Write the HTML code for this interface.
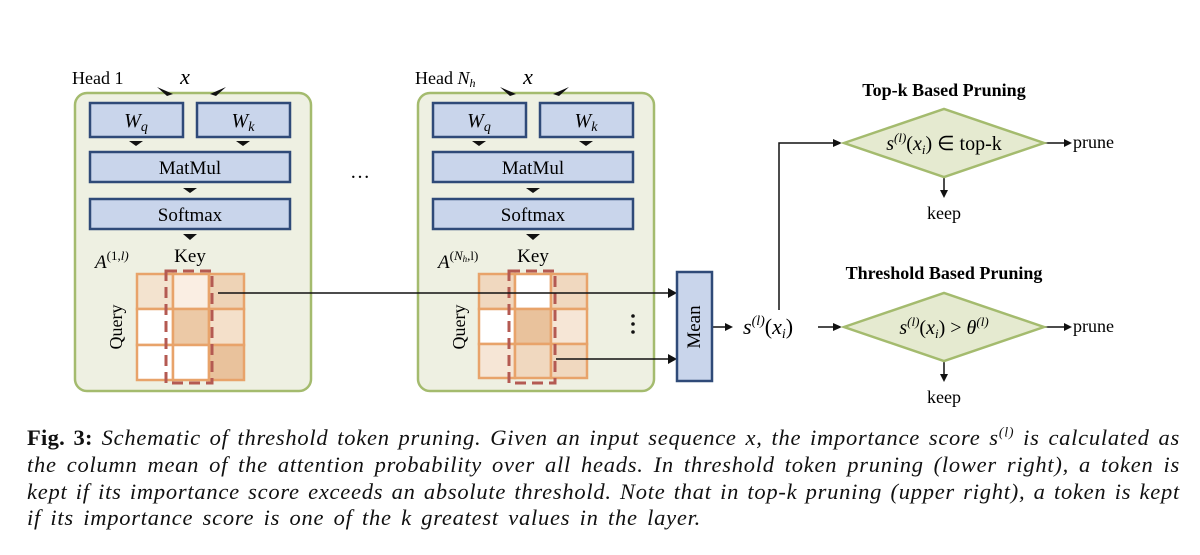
<!DOCTYPE html>
<html><head><meta charset="utf-8"><style>
html,body{margin:0;padding:0;background:#fff;}
body{width:1200px;height:555px;position:relative;overflow:hidden;font-family:"Liberation Serif",serif;}
svg{position:absolute;left:0;top:0}
.cap{position:absolute;left:27px;top:425px;width:1153px;font-size:22.5px;letter-spacing:0.75px;line-height:26.8px;font-style:italic;color:#111;}
.cap div{text-align:justify;text-align-last:justify;white-space:nowrap;}
.cap div.l{text-align-last:left;word-spacing:3px}
.cap b{font-style:normal;letter-spacing:0.3px}
</style></head><body>
<svg width="1200" height="420" viewBox="0 0 1200 420" font-family="Liberation Serif, serif">
<defs>
<g id="head">
<rect x="75" y="93" width="236" height="298" rx="12" fill="#eef0e2" stroke="#a4bb6e" stroke-width="2.5"/>
<rect x="90" y="103" width="93" height="34" fill="#c9d5eb" stroke="#2f4a78" stroke-width="2.5"/>
<rect x="197" y="103" width="93" height="34" fill="#c9d5eb" stroke="#2f4a78" stroke-width="2.5"/>
<rect x="90" y="152" width="200" height="30" fill="#c9d5eb" stroke="#2f4a78" stroke-width="2.5"/>
<rect x="90" y="199" width="200" height="30" fill="#c9d5eb" stroke="#2f4a78" stroke-width="2.5"/>
<text x="136" y="127" font-size="20" font-style="italic" text-anchor="middle">W<tspan font-size="14" dy="4">q</tspan></text>
<text x="243" y="127" font-size="20" font-style="italic" text-anchor="middle">W<tspan font-size="14" dy="4">k</tspan></text>
<text x="190" y="174" font-size="19" text-anchor="middle">MatMul</text>
<text x="190" y="221" font-size="19" text-anchor="middle">Softmax</text>
<polygon points="129,141 143,141 136,146" fill="#111"/>
<polygon points="236,141 250,141 243,146" fill="#111"/>
<polygon points="183,188 197,188 190,193" fill="#111"/>
<polygon points="183,234 197,234 190,240" fill="#111"/>
<polygon points="157,87 173,94 167,96" fill="#111"/>
<polygon points="226,87 210,94 216,96" fill="#111"/>
<text x="185" y="84" font-size="22" font-style="italic" text-anchor="middle">x</text>
<text x="190" y="262" font-size="19" text-anchor="middle">Key</text>
<text x="122" y="327" font-size="18" text-anchor="middle" transform="rotate(-90 122 327)">Query</text>
</g>
</defs>
<use href="#head"/>
<use href="#head" transform="translate(343 0)"/>
<text x="72" y="84" font-size="18">Head 1</text>
<text x="415" y="84" font-size="18">Head <tspan font-style="italic">N</tspan><tspan font-size="12" font-style="italic" dy="3">h</tspan></text>
<text x="95" y="268" font-size="19" font-style="italic">A<tspan font-size="13" font-style="normal" dy="-8">(1,</tspan><tspan font-size="13" dy="0">l)</tspan></text>
<text x="438" y="268" font-size="19" font-style="italic">A<tspan font-size="13" font-style="normal" dy="-8">(</tspan><tspan font-size="13">N</tspan><tspan font-size="9" dy="2">h</tspan><tspan font-size="13" font-style="normal" dy="-2">,l)</tspan></text>
<g stroke="#e8a36a" stroke-width="2.5">
<rect x="137" y="274" width="36" height="35" fill="#f3e3cf"/>
<rect x="173" y="274" width="36" height="35" fill="#faeee3"/>
<rect x="209" y="274" width="35" height="35" fill="#eed3b6"/>
<rect x="137" y="309" width="36" height="36" fill="#fff"/>
<rect x="173" y="309" width="36" height="36" fill="#ecc9a6"/>
<rect x="209" y="309" width="35" height="36" fill="#f4e0ca"/>
<rect x="137" y="345" width="36" height="35" fill="#fff"/>
<rect x="173" y="345" width="36" height="35" fill="#fff"/>
<rect x="209" y="345" width="35" height="35" fill="#e9c29c"/>
</g>
<rect x="166" y="271" width="46" height="112" fill="none" stroke="#b45a52" stroke-width="3" stroke-dasharray="11 6"/>
<g stroke="#e8a36a" stroke-width="2.5">
<rect x="479" y="274" width="36" height="35" fill="#f0d8bf"/>
<rect x="515" y="274" width="36" height="35" fill="#fff"/>
<rect x="551" y="274" width="36" height="35" fill="#f0d8bf"/>
<rect x="479" y="309" width="36" height="35" fill="#fff"/>
<rect x="515" y="309" width="36" height="35" fill="#e9c29c"/>
<rect x="551" y="309" width="36" height="35" fill="#f6e6d6"/>
<rect x="479" y="344" width="36" height="34" fill="#f6e6d6"/>
<rect x="515" y="344" width="36" height="34" fill="#f0d8bf"/>
<rect x="551" y="344" width="36" height="34" fill="#f0d8bf"/>
</g>
<rect x="509" y="271" width="46" height="112" fill="none" stroke="#b45a52" stroke-width="3" stroke-dasharray="11 6"/>
<text x="360" y="178" font-size="20" text-anchor="middle">…</text>
<g fill="#111"><circle cx="633" cy="316" r="1.8"/><circle cx="633" cy="324" r="1.8"/><circle cx="633" cy="332" r="1.8"/></g>
<g stroke="#111" stroke-width="1.5" fill="none">
<line x1="218" y1="293" x2="668" y2="293"/>
<line x1="556" y1="359" x2="668" y2="359"/>
<line x1="712" y1="327" x2="725" y2="327"/>
<line x1="818" y1="327" x2="833" y2="327"/>
<polyline points="779,310 779,143 833,143"/>
<line x1="1044" y1="143" x2="1064" y2="143"/>
<line x1="1044" y1="327" x2="1064" y2="327"/>
<line x1="944" y1="177" x2="944" y2="190"/>
<line x1="944" y1="361" x2="944" y2="374"/>
</g>
<g fill="#111">
<polygon points="668,288 677,293 668,298"/>
<polygon points="668,354 677,359 668,364"/>
<polygon points="725,323 733,327 725,331"/>
<polygon points="833,139 842,143 833,147"/>
<polygon points="833,323 842,327 833,331"/>
<polygon points="1064,139 1072,143 1064,147"/>
<polygon points="1064,323 1072,327 1064,331"/>
<polygon points="940,190 944,198 948,190"/>
<polygon points="940,374 944,382 948,374"/>
</g>
<rect x="677" y="272" width="35" height="109" fill="#c9d5eb" stroke="#2f4a78" stroke-width="2.5"/>
<text x="700" y="327" font-size="19" text-anchor="middle" transform="rotate(-90 700 327)">Mean</text>
<text x="743" y="334" font-size="22" font-style="italic">s<tspan font-size="14" dy="-9">(l)</tspan><tspan dy="9" font-style="normal">(</tspan>x<tspan font-size="14" dy="4">i</tspan><tspan dy="-4" font-style="normal">)</tspan></text>
<polygon points="844,143 944,109 1044,143 944,177" fill="#e5ead0" stroke="#a4bb6e" stroke-width="2.5"/>
<polygon points="844,327 944,293 1044,327 944,361" fill="#e5ead0" stroke="#a4bb6e" stroke-width="2.5"/>
<text x="944" y="150" font-size="20" text-anchor="middle"><tspan font-style="italic">s</tspan><tspan font-size="13" dy="-8" font-style="italic">(l)</tspan><tspan dy="8">(</tspan><tspan font-style="italic">x</tspan><tspan font-size="13" dy="4" font-style="italic">i</tspan><tspan dy="-4">) ∈ top-k</tspan></text>
<text x="944" y="334" font-size="20" text-anchor="middle"><tspan font-style="italic">s</tspan><tspan font-size="13" dy="-8" font-style="italic">(l)</tspan><tspan dy="8">(</tspan><tspan font-style="italic">x</tspan><tspan font-size="13" dy="4" font-style="italic">i</tspan><tspan dy="-4">) &gt; </tspan><tspan font-style="italic">θ</tspan><tspan font-size="13" dy="-8" font-style="italic">(l)</tspan></text>
<text x="944" y="96" font-size="18" font-weight="bold" text-anchor="middle">Top-k Based Pruning</text>
<text x="944" y="279" font-size="18" font-weight="bold" text-anchor="middle">Threshold Based Pruning</text>
<text x="1073" y="148" font-size="18">prune</text>
<text x="1073" y="332" font-size="18">prune</text>
<text x="944" y="219" font-size="18" text-anchor="middle">keep</text>
<text x="944" y="403" font-size="18" text-anchor="middle">keep</text>
</svg>
<div class="cap">
<div><b>Fig. 3:</b> Schematic of threshold token pruning. Given an input sequence x, the importance score s<sup style="font-size:14px;line-height:0">(l)</sup> is calculated as</div>
<div>the column mean of the attention probability over all heads. In threshold token pruning (lower right), a token is</div>
<div>kept if its importance score exceeds an absolute threshold. Note that in top-k pruning (upper right), a token is kept</div>
<div class="l">if its importance score is one of the k greatest values in the layer.</div>
</div>
</body></html>
